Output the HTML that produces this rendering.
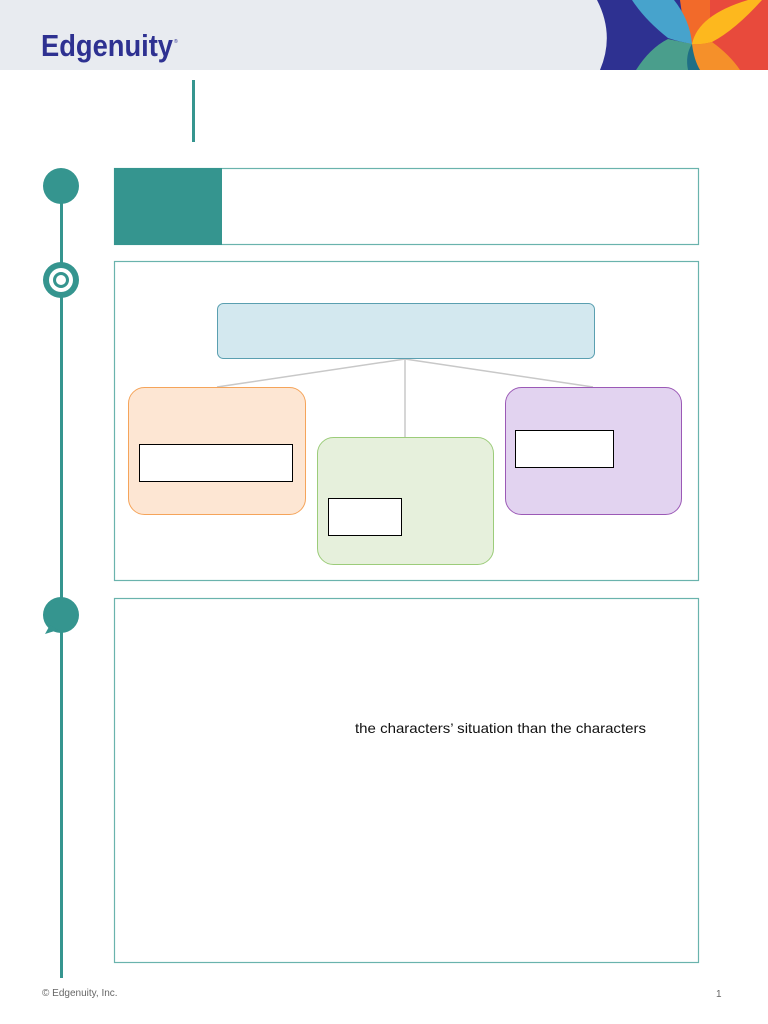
<!DOCTYPE html>
<html><head><meta charset="utf-8"><style>
html,body{margin:0;padding:0;background:#fff;}
svg{display:block;font-family:"Liberation Sans",sans-serif;}
</style></head><body>
<svg width="768" height="1024" viewBox="0 0 768 1024" xmlns="http://www.w3.org/2000/svg">
<rect x="0" y="0" width="768" height="70" fill="#e8ebf0"/>
<clipPath id="hc"><rect x="590" y="0" width="178" height="70"/></clipPath>
<g clip-path="url(#hc)">
<rect x="690" y="0" width="78" height="70" fill="#e84a3c"/>
<rect x="660" y="0" width="50" height="45" fill="#f26a2a"/>
<path d="M597,0 L680,0 L690,70 L600,70 Q615,35 597,0Z" fill="#2e3191"/>
<path d="M632,0 L674,0 Q690,20 692,44 Q680,42 668,38 Q645,20 632,0Z" fill="#47a3cc"/>
<path d="M748,0 L762,0 Q735,30 712,42 Q700,45 692,44 Q698,15 748,0Z" fill="#fdb81e"/>
<path d="M636,70 Q650,48 668,39 Q682,42 692,44 Q685,60 690,70Z" fill="#4a9e8c"/>
<path d="M692,44 Q700,45 712,42 Q730,55 740,70 L700,70 Q692,58 692,44Z" fill="#f5902a"/>
<path d="M688,70 Q685,55 692,44 Q694,60 700,70Z" fill="#1f6f85"/>
</g>
<text x="41" y="56" font-size="31" font-weight="bold" fill="#2e3191" textLength="132" lengthAdjust="spacingAndGlyphs">Edgenuity</text>
<text x="174" y="43" font-size="5" fill="#2e3191">®</text>
<rect x="192" y="80" width="3" height="62" fill="#35958f"/>
<rect x="60" y="200" width="3" height="778" fill="#35958f"/>
<circle cx="61" cy="186" r="18" fill="#35958f"/>
<circle cx="61" cy="280" r="18" fill="#35958f"/>
<circle cx="61" cy="280" r="12" fill="#fff"/>
<circle cx="61" cy="280" r="8" fill="#35958f"/>
<circle cx="61" cy="280" r="5" fill="#fff"/>
<circle cx="61" cy="615" r="18" fill="#35958f"/>
<path d="M50,625 L45,634 L58,630Z" fill="#35958f"/>
<rect x="114.5" y="168.5" width="584" height="76" fill="#fff" stroke="#6ab3ad" stroke-width="1.2"/>
<rect x="114" y="168" width="108" height="77" fill="#35958f"/>
<rect x="114.5" y="261.5" width="584" height="319" fill="#fff" stroke="#6ab3ad" stroke-width="1.2"/>
<rect x="114.5" y="598.5" width="584" height="364" fill="#fff" stroke="#6ab3ad" stroke-width="1.2"/>
<g stroke="#c8c8c8" stroke-width="1.5">
<line x1="405" y1="359" x2="217" y2="387"/>
<line x1="405" y1="359" x2="405" y2="437"/>
<line x1="405" y1="359" x2="593" y2="387"/>
</g>
<rect x="217.5" y="303.5" width="377" height="55" rx="6" fill="#d3e8ef" stroke="#5a9fb0"/>
<rect x="128.5" y="387.5" width="177" height="127" rx="16" fill="#fde6d3" stroke="#f5a45a"/>
<rect x="139.5" y="444.5" width="153" height="37" fill="#fff" stroke="#000"/>
<rect x="317.5" y="437.5" width="176" height="127" rx="16" fill="#e6f0dc" stroke="#9ccc7a"/>
<rect x="328.5" y="498.5" width="73" height="37" fill="#fff" stroke="#000"/>
<rect x="505.5" y="387.5" width="176" height="127" rx="16" fill="#e2d3f0" stroke="#9b59b6"/>
<rect x="515.5" y="430.5" width="98" height="37" fill="#fff" stroke="#000"/>
<text x="355" y="733" font-size="14" fill="#111" textLength="291" lengthAdjust="spacingAndGlyphs">the characters’ situation than the characters</text>
<text x="42" y="996" font-size="10" fill="#666">© Edgenuity, Inc.</text>
<text x="716" y="997" font-size="10" fill="#666">1</text>
</svg>
</body></html>
